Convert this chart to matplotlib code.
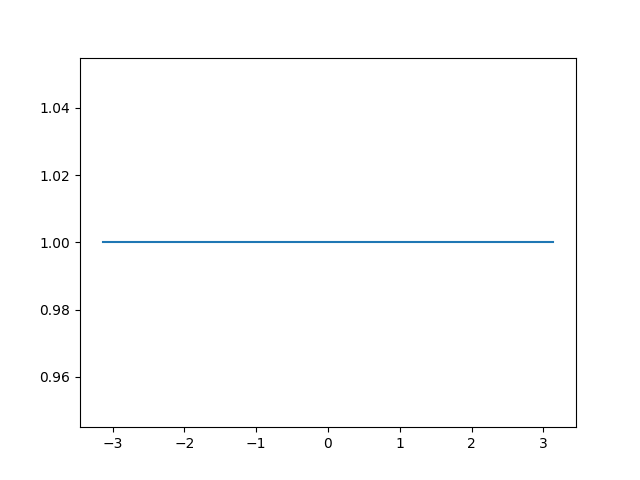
import matplotlib
matplotlib.use('Agg')
import matplotlib.pyplot as plt

# endpoints of the flat line
x_vals = [-3.14159, 3.14159]
y_vals = [1.0, 1.0]

fig, ax = plt.subplots(figsize=(6.4, 4.8), dpi=100)
ax.plot(x_vals, y_vals)

fig.savefig('out.png', dpi=100)
